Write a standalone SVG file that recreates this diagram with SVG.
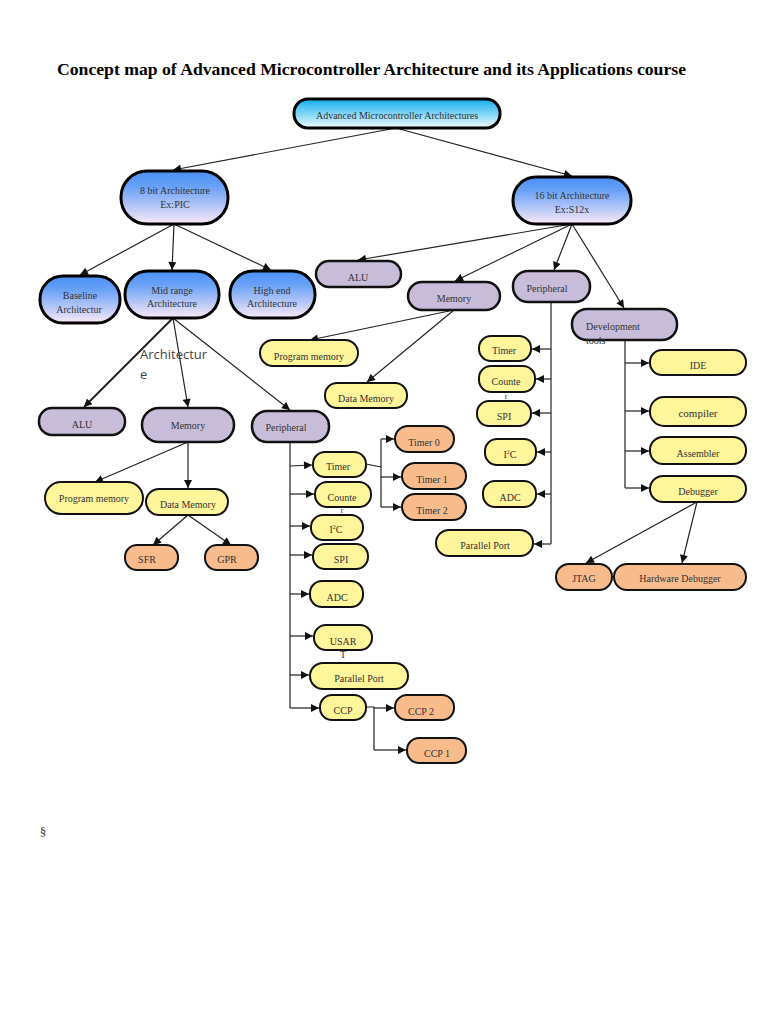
<svg xmlns="http://www.w3.org/2000/svg" width="768" height="1024" viewBox="0 0 768 1024">
<defs>
<linearGradient id="gRoot" x1="0" y1="0" x2="0" y2="1"><stop offset="0" stop-color="#0fb0ee"/><stop offset="1" stop-color="#effaff"/></linearGradient>
<linearGradient id="gBlue" x1="0" y1="0" x2="0" y2="1"><stop offset="0" stop-color="#4a90f7"/><stop offset="0.3" stop-color="#6aa2f7"/><stop offset="1" stop-color="#fbe9f7"/></linearGradient>
<marker id="ah" viewBox="0 0 10 10" refX="10" refY="5" markerWidth="9" markerHeight="8" markerUnits="userSpaceOnUse" orient="auto"><path d="M0,0 L10,5 L0,10 z" fill="#111"/></marker>
<clipPath id="clipE"><rect x="60" y="319" width="40" height="5"/></clipPath>
</defs>
<style>
text{font-family:"Liberation Serif","Times New Roman",serif;font-size:10px;fill:#333;text-anchor:middle}
.t{font-size:17.5px;font-weight:bold;fill:#000;text-anchor:start}
.root{fill:url(#gRoot);stroke:#000;stroke-width:3}
.blue{fill:url(#gBlue);stroke:#000;stroke-width:3}
.lav{fill:#c8bdd8;stroke:#111;stroke-width:2.5}
.yel{fill:#fff59b;stroke:#111;stroke-width:2}
.ora{fill:#f8bb8c;stroke:#111;stroke-width:2}
.c line,.c polyline,.c path{stroke:#222;stroke-width:1.2;fill:none}
.a{marker-end:url(#ah)}
.stray{font-family:"Open Sans","DejaVu Sans",sans-serif;font-size:13px;fill:#444;text-anchor:start}
</style>
<rect width="768" height="1024" fill="#fff"/>
<text class="t" x="57" y="75" textLength="629" lengthAdjust="spacingAndGlyphs">Concept map of Advanced Microcontroller Architecture and its Applications course</text>

<g class="c" id="connectors">
<line class="a" x1="396" y1="128" x2="173" y2="170"/>
<line class="a" x1="396" y1="128" x2="572" y2="176"/>
<line class="a" x1="174" y1="224" x2="80" y2="275"/>
<line class="a" x1="174" y1="224" x2="172" y2="270"/>
<line class="a" x1="174" y1="224" x2="271" y2="270"/>
<line class="a" x1="173" y1="318" x2="84" y2="407" style="stroke-width:2"/>
<line class="a" x1="173" y1="318" x2="188" y2="407"/>
<line class="a" x1="173" y1="318" x2="290" y2="410"/>
<line class="a" x1="188" y1="442" x2="95" y2="482"/>
<line class="a" x1="188" y1="442" x2="188" y2="488"/>
<line class="a" x1="188" y1="515" x2="153" y2="545"/>
<line class="a" x1="188" y1="515" x2="231" y2="545"/>
<line class="a" x1="572" y1="224" x2="358" y2="260"/>
<line class="a" x1="572" y1="224" x2="455" y2="281"/>
<line class="a" x1="572" y1="224" x2="554" y2="270"/>
<line class="a" x1="572" y1="224" x2="624" y2="308"/>
<line class="a" x1="454" y1="310" x2="310" y2="340"/>
<line class="a" x1="454" y1="310" x2="367" y2="382"/>
<polyline points="290,442 290,708"/>
<line class="a" x1="290" y1="466" x2="312" y2="465"/>
<line class="a" x1="290" y1="494" x2="314" y2="494"/>
<line class="a" x1="290" y1="526" x2="310" y2="526"/>
<line class="a" x1="290" y1="555" x2="312" y2="555"/>
<line class="a" x1="290" y1="594" x2="309" y2="594"/>
<line class="a" x1="290" y1="636" x2="313" y2="636"/>
<line class="a" x1="290" y1="675" x2="309" y2="675"/>
<line class="a" x1="290" y1="708" x2="319" y2="708"/>
<polyline points="366,464 381,467"/>
<polyline points="381,439 381,507"/>
<line class="a" x1="381" y1="439" x2="394" y2="439"/>
<line class="a" x1="381" y1="477" x2="401" y2="477"/>
<line class="a" x1="381" y1="507" x2="401" y2="507"/>
<polyline points="366,707 374,707 374,750"/>
<line class="a" x1="374" y1="708" x2="394" y2="708"/>
<line class="a" x1="374" y1="750" x2="406" y2="750"/>
<polyline points="551,302 551,544"/>
<line class="a" x1="551" y1="349" x2="532" y2="349"/>
<line class="a" x1="551" y1="379" x2="536" y2="379"/>
<line class="a" x1="551" y1="413" x2="532" y2="413"/>
<line class="a" x1="551" y1="452" x2="537" y2="452"/>
<line class="a" x1="551" y1="494" x2="537" y2="494"/>
<line class="a" x1="551" y1="544" x2="534" y2="544"/>
<polyline points="625,340 625,488"/>
<line class="a" x1="625" y1="363" x2="649" y2="363"/>
<line class="a" x1="625" y1="411" x2="649" y2="411"/>
<line class="a" x1="625" y1="451" x2="649" y2="451"/>
<line class="a" x1="625" y1="488" x2="649" y2="488"/>
<line class="a" x1="697" y1="502" x2="586" y2="563"/>
<line class="a" x1="697" y1="502" x2="682" y2="563"/>
</g>

<text class="stray" x="140" y="359">Architectur</text>
<text class="stray" x="140" y="379">e</text>

<g id="root"><rect class="root" x="294" y="99" width="206" height="29" rx="14"/><text x="397" y="119">Advanced Microcontroller Architectures</text></g>
<g id="bit8"><rect class="blue" x="121" y="171" width="107" height="53" rx="26"/><text x="175" y="194">8 bit Architecture</text><text x="175" y="208">Ex:PIC</text></g>
<g id="bit16"><rect class="blue" x="513" y="177" width="118" height="47" rx="23"/><text x="572" y="199">16 bit Architecture</text><text x="572" y="213">Ex:S12x</text></g>
<g id="baseline"><rect class="blue" x="40" y="276" width="80" height="47" rx="23"/><text x="80" y="299">Baseline</text><text x="79" y="313">Architectur</text><text x="79" y="329" clip-path="url(#clipE)">e</text></g>
<g id="midrange"><rect class="blue" x="125" y="271" width="94" height="47" rx="23"/><text x="172" y="294">Mid range</text><text x="172" y="307">Architecture</text></g>
<g id="highend"><rect class="blue" x="230" y="271" width="85" height="47" rx="23"/><text x="272" y="294">High end</text><text x="272" y="307">Architecture</text></g>

<g id="alu16"><rect class="lav" x="316" y="261" width="85" height="26" rx="13"/><text x="358" y="281">ALU</text></g>
<g id="mem16"><rect class="lav" x="408" y="282" width="92" height="28" rx="14"/><text x="454" y="302">Memory</text></g>
<g id="per16"><rect class="lav" x="513" y="271" width="77" height="31" rx="15"/><text x="547" y="292">Peripheral</text></g>
<g id="devtools"><rect class="lav" x="572" y="309" width="105" height="31" rx="15"/><text x="586" y="330" style="text-anchor:start">Development</text><text x="586" y="344" style="text-anchor:start">tools</text></g>

<g id="prog16"><rect class="yel" x="260" y="340" width="98" height="26" rx="13"/><text x="309" y="360">Program memory</text></g>
<g id="data16"><rect class="yel" x="325" y="383" width="82" height="25" rx="12"/><text x="366" y="402">Data Memory</text></g>

<g id="timerR"><rect class="yel" x="479" y="336" width="52" height="25" rx="12"/><text x="504" y="354">Timer</text></g>
<g id="counterR"><rect class="yel" x="479" y="366" width="56" height="26" rx="12"/><text x="506" y="385">Counte</text><text x="506" y="399" style="font-size:8px">r</text></g>
<g id="spiR"><rect class="yel" x="477" y="401" width="54" height="25" rx="12"/><text x="504" y="420">SPI</text></g>
<g id="i2cR"><rect class="yel" x="485" y="439" width="51" height="26" rx="12"/><text x="510" y="458">I<tspan dy="-4" style="font-size:6px">2</tspan><tspan dy="4">C</tspan></text></g>
<g id="adcR"><rect class="yel" x="483" y="481" width="53" height="26" rx="12"/><text x="510" y="501">ADC</text></g>
<g id="ppR"><rect class="yel" x="436" y="530" width="97" height="26" rx="13"/><text x="485" y="549">Parallel Port</text></g>

<g id="ide"><rect class="yel" x="650" y="350" width="96" height="25" rx="12"/><text x="698" y="369">IDE</text></g>
<g id="compiler"><rect class="yel" x="650" y="397" width="96" height="29" rx="14"/><text x="698" y="417" style="font-size:11px">compiler</text></g>
<g id="assembler"><rect class="yel" x="650" y="437" width="96" height="27" rx="13"/><text x="698" y="457">Assembler</text></g>
<g id="debugger"><rect class="yel" x="650" y="476" width="96" height="26" rx="13"/><text x="698" y="495">Debugger</text></g>
<g id="jtag"><rect class="ora" x="556" y="564" width="56" height="26" rx="13"/><text x="584" y="582">JTAG</text></g>
<g id="hwdbg"><rect class="ora" x="614" y="564" width="132" height="26" rx="13"/><text x="680" y="582">Hardware Debugger</text></g>

<g id="aluL"><rect class="lav" x="39" y="408" width="86" height="27" rx="13"/><text x="82" y="428">ALU</text></g>
<g id="memL"><rect class="lav" x="142" y="408" width="92" height="34" rx="17"/><text x="188" y="429">Memory</text></g>
<g id="perL"><rect class="lav" x="252" y="411" width="77" height="31" rx="15"/><text x="286" y="431">Peripheral</text></g>
<g id="progL"><rect class="yel" x="45" y="482" width="98" height="32" rx="16"/><text x="94" y="502">Program memory</text></g>
<g id="dataL"><rect class="yel" x="146" y="489" width="82" height="26" rx="13"/><text x="188" y="508">Data Memory</text></g>
<g id="sfr"><rect class="ora" x="125" y="545" width="53" height="25" rx="12"/><text x="147" y="563">SFR</text></g>
<g id="gpr"><rect class="ora" x="205" y="545" width="53" height="25" rx="12"/><text x="227" y="563">GPR</text></g>

<g id="timerL"><rect class="yel" x="313" y="452" width="53" height="25" rx="12"/><text x="338" y="470">Timer</text></g>
<g id="counterL"><rect class="yel" x="315" y="482" width="56" height="25" rx="12"/><text x="342" y="501">Counte</text><text x="342" y="513" style="font-size:8px">r</text></g>
<g id="i2cL"><rect class="yel" x="311" y="515" width="52" height="25" rx="12"/><text x="336" y="533">I<tspan dy="-4" style="font-size:6px">2</tspan><tspan dy="4">C</tspan></text></g>
<g id="spiL"><rect class="yel" x="313" y="544" width="55" height="25" rx="12"/><text x="341" y="563">SPI</text></g>
<g id="adcL"><rect class="yel" x="310" y="581" width="53" height="26" rx="12"/><text x="337" y="601">ADC</text></g>
<g id="usartL"><rect class="yel" x="314" y="625" width="58" height="25" rx="12"/><text x="343" y="645">USAR</text><text x="343" y="658">T</text></g>
<g id="ppL"><rect class="yel" x="310" y="663" width="98" height="26" rx="13"/><text x="359" y="682">Parallel Port</text></g>
<g id="ccp"><rect class="yel" x="320" y="695" width="46" height="25" rx="12"/><text x="343" y="714">CCP</text></g>
<g id="t0"><rect class="ora" x="395" y="426" width="59" height="26" rx="13"/><text x="424" y="446">Timer 0</text></g>
<g id="t1"><rect class="ora" x="402" y="463" width="64" height="26" rx="13"/><text x="432" y="483">Timer 1</text></g>
<g id="t2"><rect class="ora" x="402" y="494" width="64" height="26" rx="13"/><text x="432" y="514">Timer 2</text></g>
<g id="ccp2"><rect class="ora" x="395" y="695" width="59" height="25" rx="12"/><text x="421" y="715">CCP 2</text></g>
<g id="ccp1"><rect class="ora" x="407" y="738" width="59" height="25" rx="12"/><text x="437" y="757">CCP 1</text></g>

<text x="43" y="836" style="font-size:13px">§</text>
</svg>
